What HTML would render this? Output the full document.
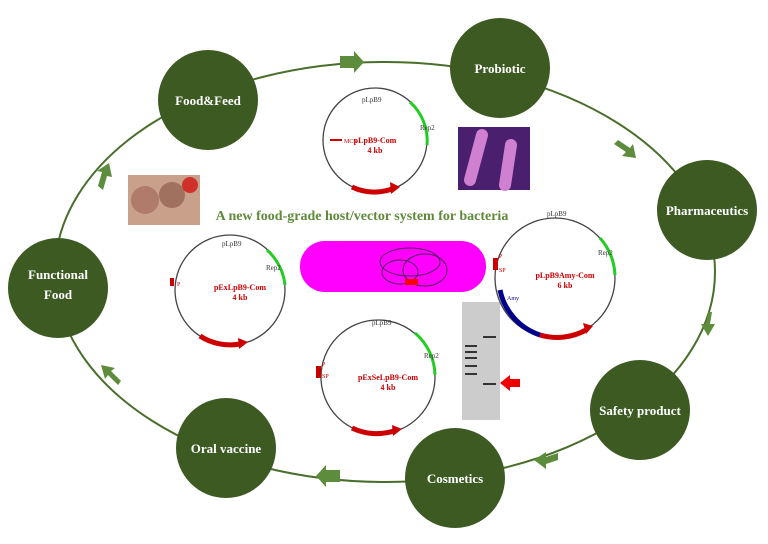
<!DOCTYPE html>
<html><head><meta charset="utf-8"><style>
body{margin:0;background:#fff}
svg{display:block;font-family:"Liberation Serif",serif}
</style></head><body>
<svg width="768" height="544" viewBox="0 0 768 544">
<ellipse cx="385" cy="272" rx="330" ry="210" fill="none" stroke="#4a6e2c" stroke-width="2"/>
<g fill="#5d8c3c">
<path d="M340,56 h14 v-5 l10,11 l-10,11 v-5 h-14z"/>
<path d="M98,186 l4,-14 l-5,-1 l12,-8 l3,14 l-5,-1 l-4,14z"/>
<path d="M118,385 l-10,-10 l-3,4 l-4,-14 l14,3 l-4,3 l10,10z"/>
<path d="M340,470 h-14 v-5 l-10,11 l10,11 v-5 h14z"/>
<path d="M558,460 l-12,4 v5 l-12,-9 l12,-8 v5 l12,-4z"/>
<path d="M712,312 l-2,12 l5,0 l-7,12 l-7,-12 l5,0 l2,-12z"/>
<path d="M618,140 l12,8 l3,-4 l3,14 l-14,-2 l4,-4 l-12,-8z"/>
</g>
<g fill="#3c5a22">
<circle cx="208" cy="100" r="50"/><circle cx="500" cy="68" r="50"/>
<circle cx="707" cy="210" r="50"/><circle cx="640" cy="410" r="50"/>
<circle cx="455" cy="478" r="50"/><circle cx="226" cy="448" r="50"/>
<circle cx="58" cy="288" r="50"/>
</g>
<g fill="#fff" font-weight="bold" font-size="13" text-anchor="middle">
<text x="208" y="105">Food&amp;Feed</text><text x="500" y="73">Probiotic</text>
<text x="707" y="215">Pharmaceutics</text><text x="640" y="415">Safety product</text>
<text x="455" y="483">Cosmetics</text><text x="226" y="453">Oral vaccine</text>
<text x="58" y="279">Functional</text><text x="58" y="299">Food</text>
</g>
<rect x="128" y="175" width="72" height="50" fill="#c9a08a"/>
<circle cx="145" cy="200" r="14" fill="#b07b6a"/><circle cx="172" cy="195" r="13" fill="#a0715f"/><circle cx="190" cy="185" r="8" fill="#d0302a"/>
<rect x="458" y="127" width="72" height="63" fill="#4a1f6e"/>
<path d="M470,180 l12,-45 M505,185 l6,-40" stroke="#d080d0" stroke-width="12" stroke-linecap="round"/>
<text x="362" y="220" text-anchor="middle" font-weight="bold" font-size="14" fill="#5e8a3a">A new food-grade host/vector system for bacteria</text>
<rect x="300" y="241" width="186" height="51" rx="25" fill="#ff00ff"/>
<g fill="none" stroke="#502060" stroke-width="1"><ellipse cx="410" cy="262" rx="30" ry="14"/><ellipse cx="425" cy="270" rx="22" ry="16"/><ellipse cx="400" cy="272" rx="18" ry="12"/></g>
<rect x="405" y="279" width="13" height="6" fill="#f00"/>
<rect x="462" y="302" width="38" height="118" fill="#ccc"/>
<g stroke="#333" stroke-width="2"><path d="M465,346h12M465,352h12M465,358h12M465,366h12M465,374h12M483,337h13M483,384h13"/></g>
<path d="M500,383 l10,-8 v4 h10 v8 h-10 v4z" fill="#e00"/>
<g fill="none" stroke="#444" stroke-width="1.3">
<circle cx="375" cy="140" r="52"/><circle cx="230" cy="290" r="55"/><circle cx="555" cy="278" r="60"/><circle cx="378" cy="377" r="57"/>
</g>
<g fill="none" stroke="#22cc22" stroke-width="3">
<path d="M410,102 A52,52 0 0 1 427,145"/><path d="M267,250 A55,55 0 0 1 285,285"/><path d="M600,238 A60,60 0 0 1 615,275"/><path d="M415,333 A57,57 0 0 1 435,375"/>
</g>
<g fill="none" stroke="#c00" stroke-width="5">
<path d="M352,187 A52,52 0 0 0 392,189"/><path d="M200,336 A55,55 0 0 0 240,344"/><path d="M352,428 A57,57 0 0 0 394,431"/><path d="M540,335 A60,60 0 0 0 586,330"/>
</g>
<g fill="#c00"><path d="M390,182 l10,5 l-9,7z"/><path d="M238,338 l10,4 l-9,7z"/><path d="M392,425 l10,4 l-9,7z"/><path d="M583,323 l10,3 l-7,8z"/></g>
<path d="M500,290 A60,60 0 0 0 540,335" fill="none" stroke="#00008b" stroke-width="5"/>
<g fill="#c00"><rect x="330" y="139" width="12" height="2"/><rect x="170" y="278" width="4" height="8"/><rect x="493" y="258" width="5" height="12"/><rect x="316" y="366" width="5" height="12"/></g>
<g font-size="6" fill="#c00"><text x="344" y="143">MCS</text><text x="177" y="286">P</text><text x="499" y="258">P</text><text x="499" y="272">SP</text><text x="322" y="366">P</text><text x="322" y="378">SP</text><text x="507" y="300" fill="#00008b">Amy</text></g>
<g font-size="8" text-anchor="middle" fill="#c00" font-weight="bold">
<text x="375" y="143">pLpB9-Com</text><text x="375" y="153">4 kb</text>
<text x="240" y="290">pExLpB9-Com</text><text x="240" y="300">4 kb</text>
<text x="565" y="278">pLpB9Amy-Com</text><text x="565" y="288">6 kb</text>
<text x="388" y="380">pExSeLpB9-Com</text><text x="388" y="390">4 kb</text>
</g>
<g font-size="7" fill="#333"><text x="362" y="102">pLpB9</text><text x="222" y="246">pLpB9</text><text x="547" y="216">pLpB9</text><text x="372" y="325">pLpB9</text>
<text x="420" y="130">Rep2</text><text x="266" y="270">Rep2</text><text x="598" y="255">Rep2</text><text x="424" y="358">Rep2</text></g>
</svg>
</body></html>
